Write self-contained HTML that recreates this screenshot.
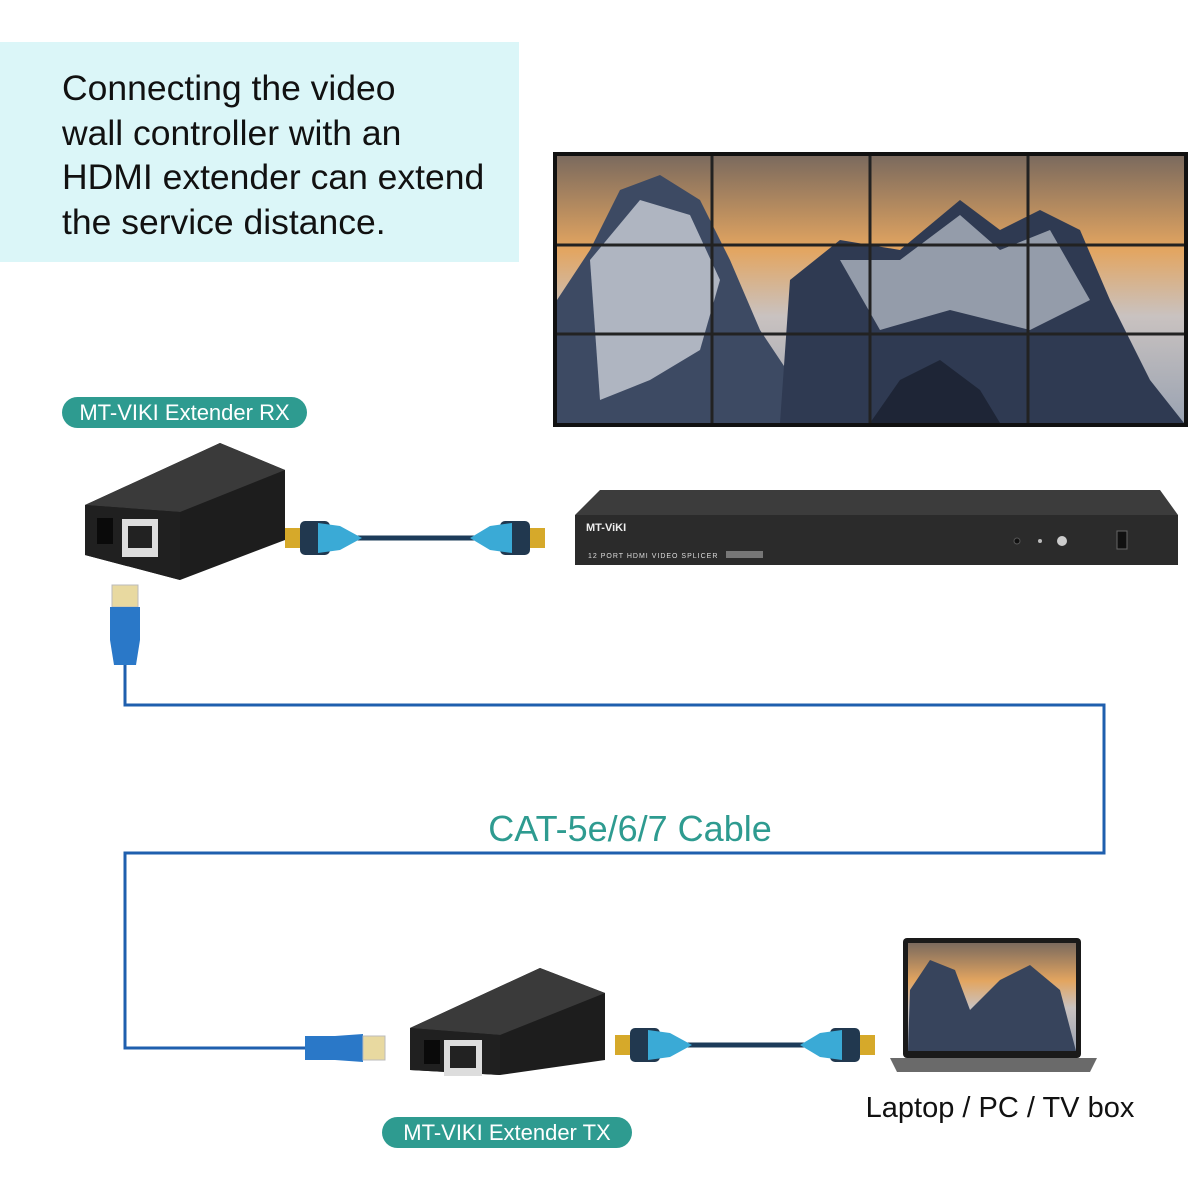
<!DOCTYPE html>
<html><head><meta charset="utf-8"><style>
body{margin:0;width:1200px;height:1200px;background:#fff;position:relative;overflow:hidden;font-family:"Liberation Sans",sans-serif}
.a{position:absolute}
.pill{position:absolute;background:#2e9b90;color:#fff;border-radius:16px;font-size:22px;text-align:center;line-height:31px;height:31px}
</style></head><body>
<div class="a" style="left:0;top:42px;width:519px;height:220px;background:#dbf6f8"></div>
<div class="a" style="left:62px;top:66px;font-size:35.5px;line-height:44.5px;color:#111">Connecting the video<br>wall controller with an<br>HDMI extender can extend<br>the service distance.</div>

<svg class="a" style="left:0;top:0" width="1200" height="1200">
<defs>
<linearGradient id="sky" x1="0" y1="0" x2="0" y2="1"><stop offset="0" stop-color="#7b6a5e"/><stop offset=".35" stop-color="#e3a560"/><stop offset=".6" stop-color="#c9c2c0"/><stop offset="1" stop-color="#9aa3b2"/></linearGradient>
</defs>
<rect x="553" y="152" width="635" height="275" fill="#111"/>
<rect x="557" y="156" width="627" height="267" fill="url(#sky)"/>
<path d="M557 423 L557 300 L590 250 L620 190 L660 175 L700 200 L730 260 L760 330 L800 390 L830 423Z" fill="#3d4a63"/>
<path d="M590 260 L640 200 L690 215 L720 280 L700 350 L650 380 L600 400Z" fill="#dfe3ea" opacity=".7"/>
<path d="M780 423 L790 280 L840 240 L900 250 L960 200 L1000 230 L1040 210 L1080 230 L1110 300 L1150 380 L1184 423Z" fill="#2f3a52"/>
<path d="M840 260 L900 260 L960 215 L1000 250 L1050 230 L1090 300 L1030 330 L950 310 L880 330Z" fill="#d8dde6" opacity=".6"/>
<path d="M870 423 L900 380 L940 360 L980 390 L1000 423Z" fill="#1e2536"/>
<g stroke="#222" stroke-width="3"><line x1="712" y1="156" x2="712" y2="423"/><line x1="870" y1="156" x2="870" y2="423"/><line x1="1028" y1="156" x2="1028" y2="423"/><line x1="557" y1="245" x2="1184" y2="245"/><line x1="557" y1="334" x2="1184" y2="334"/></g>
<path d="M600 490 L1160 490 L1178 515 L575 515Z" fill="#3c3c3c"/>
<rect x="575" y="515" width="603" height="50" fill="#2b2b2b"/>
<text x="586" y="531" fill="#eee" font-size="11" font-weight="bold">MT-ViKI</text>
<text x="588" y="558" fill="#ddd" font-size="7" letter-spacing="1">12 PORT HDMI VIDEO SPLICER</text>
<rect x="726" y="551" width="37" height="7" fill="#777"/>
<circle cx="1017" cy="541" r="3" fill="#111" stroke="#555"/><circle cx="1040" cy="541" r="2" fill="#bbb"/><circle cx="1062" cy="541" r="5" fill="#ccc"/>
<rect x="1117" y="531" width="10" height="18" fill="#111" stroke="#666"/>
<path d="M85 505 L220 443 L285 470 L285 540 L180 580 L85 555Z" fill="#1d1d1d"/>
<path d="M85 505 L220 443 L285 470 L180 512Z" fill="#3a3a3a"/>
<path d="M85 505 L180 512 L180 580 L85 555Z" fill="#202020"/>
<rect x="97" y="518" width="16" height="26" fill="#0a0a0a"/><rect x="122" y="519" width="36" height="38" fill="#ddd"/><rect x="128" y="526" width="24" height="22" fill="#222"/>
<path d="M410 1028 L540 968 L605 993 L605 1060 L500 1075 L410 1070Z" fill="#1d1d1d"/>
<path d="M410 1028 L540 968 L605 993 L500 1035Z" fill="#3a3a3a"/>
<path d="M410 1028 L500 1035 L500 1075 L410 1070Z" fill="#202020"/>
<rect x="424" y="1040" width="16" height="24" fill="#0a0a0a"/><rect x="444" y="1040" width="38" height="36" fill="#ddd"/><rect x="450" y="1046" width="26" height="22" fill="#222"/>
<path d="M125 665 L125 705 L1104 705 L1104 853 L125 853 L125 1048 L305 1048" fill="none" stroke="#1f5fae" stroke-width="3"/>
<rect x="112" y="585" width="26" height="22" fill="#e8d9a0" stroke="#bbb"/>
<path d="M110 607 L140 607 L140 640 L136 665 L114 665 L110 640Z" fill="#2a78c8"/>
<path d="M305 1036 L335 1036 L363 1034 L363 1062 L335 1060 L305 1060Z" fill="#2a78c8"/>
<rect x="363" y="1036" width="22" height="24" fill="#e8d9a0" stroke="#bbb"/>
<g id="h1">
<line x1="340" y1="538" x2="480" y2="538" stroke="#1d3c5a" stroke-width="5"/>
<rect x="285" y="528" width="18" height="20" fill="#d6a92a"/>
<rect x="300" y="521" width="30" height="34" rx="5" fill="#21384f"/><path d="M318 523 L340 526 L362 538 L340 550 L318 553 Z" fill="#3aaad6"/>
<rect x="527" y="528" width="18" height="20" fill="#d6a92a"/>
<rect x="500" y="521" width="30" height="34" rx="5" fill="#21384f"/><path d="M512 523 L490 526 L470 538 L490 550 L512 553 Z" fill="#3aaad6"/>
</g>
<use href="#h1" transform="translate(330,507)"/>
<rect x="903" y="938" width="178" height="120" rx="4" fill="#1a1a1a"/>
<rect x="908" y="943" width="168" height="108" fill="url(#sky)"/>
<path d="M908 1051 L910 990 L930 960 L955 970 L970 1010 L1000 980 L1030 965 L1060 990 L1076 1051Z" fill="#37445c"/>
<path d="M890 1058 L1097 1058 L1090 1072 L897 1072Z" fill="#6a6a6a"/>
</svg>

<div class="pill" style="left:62px;top:397px;width:245px">MT-VIKI Extender RX</div>
<div class="pill" style="left:382px;top:1117px;width:250px">MT-VIKI Extender TX</div>
<div class="a" style="left:380px;top:808px;width:500px;text-align:center;font-size:36px;color:#2e9b90">CAT-5e/6/7 Cable</div>
<div class="a" style="left:840px;top:1092px;width:320px;text-align:center;font-size:29px;color:#111">Laptop / PC / TV box</div>
</body></html>
